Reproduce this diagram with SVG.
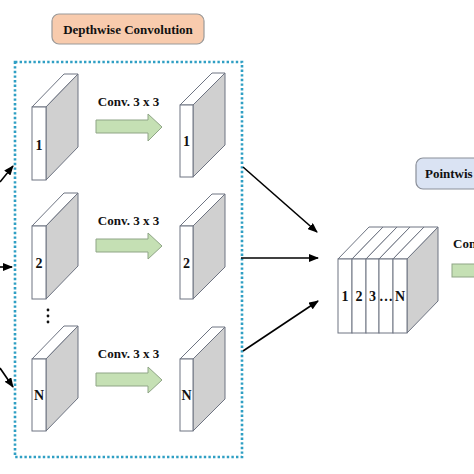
<svg xmlns="http://www.w3.org/2000/svg" width="474" height="474" viewBox="0 0 474 474">
<defs>
<style>
text{font-family:"Liberation Serif","Times New Roman",serif;font-weight:bold;fill:#111}
.lbl{font-size:13px}
.num{font-size:14px;text-anchor:middle}
.front{fill:#fff;stroke:#6e7482;stroke-width:1}
.top{fill:#fff;stroke:#6e7482;stroke-width:1}
.side{fill:#d0d0d0;stroke:#6e7482;stroke-width:1}
.garrow{fill:#c5e0b4;stroke:#8fa586;stroke-width:1}
.conn{stroke:#000;stroke-width:1.6;fill:none;marker-end:url(#ah)}
</style>
<marker id="ah" markerWidth="10" markerHeight="8" refX="9" refY="4" orient="auto" markerUnits="userSpaceOnUse">
<path d="M0,0 L10,4 L0,8 Z" fill="#000"/>
</marker>
</defs>
<rect width="474" height="474" fill="#fff"/>

<g id="depthwise-label">
<rect x="52" y="14" width="152" height="30" rx="7" fill="#f8cbad" stroke="#9a9a9a" stroke-width="1.2"/>
<text class="lbl" x="128" y="34" text-anchor="middle">Depthwise Convolution</text>
</g>

<g id="depthwise-box">
<rect x="15" y="62" width="227" height="395" fill="none" stroke="#2f9fc4" stroke-width="2.6" stroke-dasharray="2.4 2.2"/>
</g>

<g id="in1">
<polygon class="top" points="32,107 46,107 78,74 64,74"/>
<polygon class="side" points="46,107 78,74 78,147 46,180"/>
<rect class="front" x="32" y="107" width="14" height="73"/>
<text class="num" x="39" y="150">1</text>
</g>
<g id="in2">
<polygon class="top" points="32,226 46,226 78,193 64,193"/>
<polygon class="side" points="46,226 78,193 78,266 46,299"/>
<rect class="front" x="32" y="226" width="14" height="73"/>
<text class="num" x="39" y="268">2</text>
</g>
<g id="dots">
<circle cx="48" cy="310" r="1.4" fill="#111"/>
<circle cx="48" cy="316" r="1.4" fill="#111"/>
<circle cx="48" cy="322" r="1.4" fill="#111"/>
</g>
<g id="inN">
<polygon class="top" points="32,359 46,359 78,326 64,326"/>
<polygon class="side" points="46,359 78,326 78,398 46,431"/>
<rect class="front" x="32" y="359" width="14" height="72"/>
<text class="num" x="39" y="400">N</text>
</g>

<g id="conv1">
<text class="lbl" x="128.5" y="106" text-anchor="middle">Conv. 3 x 3</text>
<polygon class="garrow" points="96,120 148,120 148,114 162,127 148,141 148,133 96,133"/>
</g>
<g id="conv2">
<text class="lbl" x="128.5" y="225" text-anchor="middle">Conv. 3 x 3</text>
<polygon class="garrow" points="96,239 148,239 148,233 162,246 148,259 148,252 96,252"/>
</g>
<g id="convN">
<text class="lbl" x="128.5" y="358" text-anchor="middle">Conv. 3 x 3</text>
<polygon class="garrow" points="96,373 148,373 148,367 162,380 148,393 148,386 96,386"/>
</g>

<g id="out1">
<polygon class="top" points="180,105 193,105 225,73 212,73"/>
<polygon class="side" points="193,105 225,73 225,145 193,177"/>
<rect class="front" x="180" y="105" width="13" height="72"/>
<text class="num" x="186.5" y="146">1</text>
</g>
<g id="out2">
<polygon class="top" points="180,226 193,226 225,194 212,194"/>
<polygon class="side" points="193,226 225,194 225,267 193,299"/>
<rect class="front" x="180" y="226" width="13" height="73"/>
<text class="num" x="186.5" y="268">2</text>
</g>
<g id="outN">
<polygon class="top" points="180,359 193,359 225,327 212,327"/>
<polygon class="side" points="193,359 225,327 225,399 193,431"/>
<rect class="front" x="180" y="359" width="13" height="72"/>
<text class="num" x="186.5" y="400">N</text>
</g>

<g id="stack">
<polygon class="side" points="407,259 438,227 438,301 407,333"/>
<polygon class="top" points="338,259 352,259 383,227 369,227"/>
<polygon class="top" points="352,259 366,259 397,227 383,227"/>
<polygon class="top" points="366,259 379,259 410,227 397,227"/>
<polygon class="top" points="379,259 393,259 424,227 410,227"/>
<polygon class="top" points="393,259 407,259 438,227 424,227"/>
<rect class="front" x="338" y="259" width="14" height="74"/>
<rect class="front" x="352" y="259" width="14" height="74"/>
<rect class="front" x="366" y="259" width="13" height="74"/>
<rect class="front" x="379" y="259" width="14" height="74"/>
<rect class="front" x="393" y="259" width="14" height="74"/>
<text class="num" x="345" y="301">1</text>
<text class="num" x="359" y="301">2</text>
<text class="num" x="372.5" y="301">3</text>
<text class="num" x="386" y="301">…</text>
<text class="num" x="400" y="301">N</text>
</g>

<g id="pointwise-label">
<rect x="416" y="158" width="80" height="31" rx="7" fill="#dae3f3" stroke="#8a8f99" stroke-width="1.2"/>
<text class="lbl" x="425" y="178">Pointwis</text>
</g>

<g id="conv-pw">
<text class="lbl" x="453" y="248">Con</text>
<rect x="452" y="264" width="30" height="13" fill="#c5e0b4" stroke="#8fa586" stroke-width="1"/>
</g>

<g id="connectors">
<line class="conn" x1="0" y1="182" x2="13" y2="166"/>
<line class="conn" x1="0" y1="267" x2="12" y2="267"/>
<line class="conn" x1="0" y1="368" x2="13" y2="387"/>
<line class="conn" x1="243" y1="167" x2="317" y2="232"/>
<line class="conn" x1="241" y1="258" x2="318" y2="258"/>
<line class="conn" x1="243" y1="351" x2="318" y2="301"/>
</g>
</svg>
